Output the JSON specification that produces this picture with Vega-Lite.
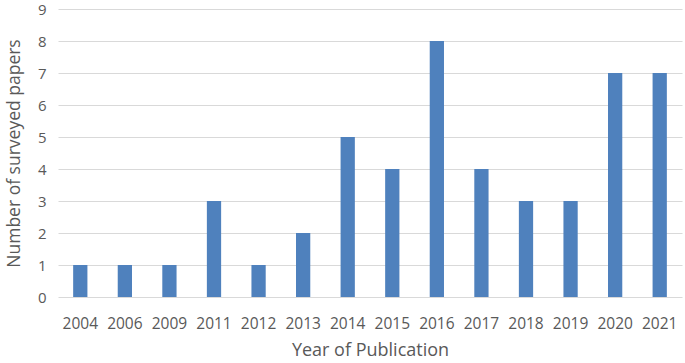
{
  "$schema": "https://vega.github.io/schema/vega-lite/v6.json",
  "width": 624,
  "height": 288,
  "autosize": "none",
  "padding": {"left": 58, "top": 9, "right": 3, "bottom": 66},
  "background": "white",
  "config": {"view": {"stroke": null}, "font": "Open Sans"},
  "data": {"values": [
    {"year": "2004", "papers": 1},
    {"year": "2006", "papers": 1},
    {"year": "2009", "papers": 1},
    {"year": "2011", "papers": 3},
    {"year": "2012", "papers": 1},
    {"year": "2013", "papers": 2},
    {"year": "2014", "papers": 5},
    {"year": "2015", "papers": 4},
    {"year": "2016", "papers": 8},
    {"year": "2017", "papers": 4},
    {"year": "2018", "papers": 3},
    {"year": "2019", "papers": 3},
    {"year": "2020", "papers": 7},
    {"year": "2021", "papers": 7}
  ]},
  "mark": {"type": "bar", "color": "#4f81bd"},
  "encoding": {
    "x": {
      "field": "year", "type": "ordinal", "title": "Year of Publication",
      "scale": {"paddingInner": 0.68, "paddingOuter": 0.34},
      "axis": {"labelAngle": 0, "domain": false, "ticks": false, "labelFontSize": 15.5, "labelColor": "#595959", "labelPadding": 19, "titleFontSize": 18, "titleFontWeight": "normal", "titleColor": "#595959", "titlePadding": 10}
    },
    "y": {
      "field": "papers", "type": "quantitative", "title": "Number of surveyed papers",
      "scale": {"domain": [0, 9], "nice": false},
      "axis": {"values": [0,1,2,3,4,5,6,7,8,9], "labelOverlap": false, "domain": false, "ticks": false, "gridColor": "#d9d9d9", "labelFontSize": 15, "labelColor": "#595959", "labelPadding": 12, "titleFontSize": 17.5, "titleFontWeight": "normal", "titleColor": "#595959", "titlePadding": 14}
    }
  }
}
